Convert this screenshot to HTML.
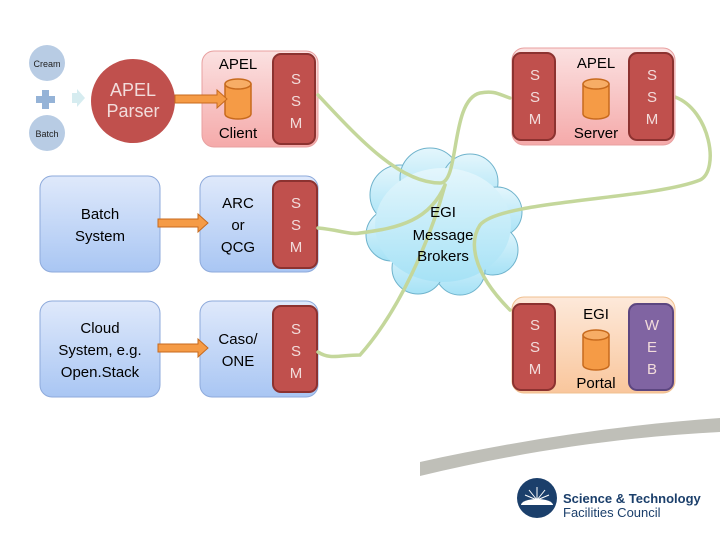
<!DOCTYPE html>
<html><head><meta charset="utf-8"><style>
body{margin:0;width:720px;height:540px;overflow:hidden;background:#fff;font-family:"Liberation Sans",sans-serif}
svg text{font-family:"Liberation Sans",sans-serif}
</style></head><body>
<svg width="720" height="540" viewBox="0 0 720 540" xmlns="http://www.w3.org/2000/svg">
<defs>
<linearGradient id="blue" x1="0" y1="0" x2="0" y2="1"><stop offset="0" stop-color="#dfe9fb"/><stop offset="1" stop-color="#a9c6f3"/></linearGradient>
<linearGradient id="pink" x1="0" y1="0" x2="0" y2="1"><stop offset="0" stop-color="#fbe1e1"/><stop offset="1" stop-color="#f5aaaa"/></linearGradient>
<linearGradient id="peach" x1="0" y1="0" x2="0" y2="1"><stop offset="0" stop-color="#fde9da"/><stop offset="1" stop-color="#f9c69c"/></linearGradient>
<linearGradient id="cloud" x1="0" y1="0" x2="0" y2="1"><stop offset="0" stop-color="#e4f6fc"/><stop offset="1" stop-color="#a6e2f6"/></linearGradient>
<g id="cyl"><path d="M0 6 v30 a13 5 0 0 0 26 0 v-30" fill="#f59b46" stroke="#c76a1d" stroke-width="1.5"/><ellipse cx="13" cy="6" rx="13" ry="5" fill="#f7ad66" stroke="#c76a1d" stroke-width="1.5"/></g>
</defs>
<circle cx="47" cy="63" r="18" fill="#b8cce4"/><text x="47" y="67" font-size="9" text-anchor="middle" fill="#222">Cream</text>
<circle cx="47" cy="133" r="18" fill="#b8cce4"/><text x="47" y="137" font-size="9" text-anchor="middle" fill="#222">Batch</text>
<path d="M42 90h7v6h6v7h-6v6h-7v-6h-6v-7h6z" fill="#95b3d7"/>
<path d="M72 93h5v-4l8 9-8 9v-4h-5z" fill="#d6ecf0"/>
<circle cx="133" cy="101" r="42" fill="#c0504d"/>
<text x="133" y="96" font-size="18" text-anchor="middle" fill="#f2dcdb">APEL</text>
<text x="133" y="117" font-size="18" text-anchor="middle" fill="#f2dcdb">Parser</text>
<rect x="202" y="51" width="116" height="96" rx="12" fill="url(#pink)" stroke="#e8a0a0"/>
<rect x="273" y="54" width="42" height="90" rx="8" fill="#c0504d" stroke="#8c3230" stroke-width="2"/>
<text x="238" y="69" font-size="15" text-anchor="middle">APEL</text>
<text x="238" y="138" font-size="15" text-anchor="middle">Client</text>
<use href="#cyl" x="225" y="78"/>
<path d="M175 95h42v-5l10 9-10 9v-5h-42z" fill="#f59b46" stroke="#c76a1d"/>
<rect x="40" y="176" width="120" height="96" rx="12" fill="url(#blue)" stroke="#8eaadb"/>
<text x="100" y="219" font-size="15" text-anchor="middle">Batch</text><text x="100" y="241" font-size="15" text-anchor="middle">System</text>
<rect x="200" y="176" width="118" height="96" rx="12" fill="url(#blue)" stroke="#8eaadb"/>
<rect x="273" y="181" width="44" height="87" rx="8" fill="#c0504d" stroke="#8c3230" stroke-width="2"/>
<text x="238" y="208" font-size="15" text-anchor="middle">ARC</text><text x="238" y="230" font-size="15" text-anchor="middle">or</text><text x="238" y="252" font-size="15" text-anchor="middle">QCG</text>
<path d="M158 219h40v-5l10 9-10 9v-5h-40z" fill="#f59b46" stroke="#c76a1d"/>
<rect x="40" y="301" width="120" height="96" rx="12" fill="url(#blue)" stroke="#8eaadb"/>
<text x="100" y="333" font-size="15" text-anchor="middle">Cloud</text><text x="100" y="355" font-size="15" text-anchor="middle">System, e.g.</text><text x="100" y="377" font-size="15" text-anchor="middle">Open.Stack</text>
<rect x="200" y="301" width="118" height="96" rx="12" fill="url(#blue)" stroke="#8eaadb"/>
<rect x="273" y="306" width="44" height="86" rx="8" fill="#c0504d" stroke="#8c3230" stroke-width="2"/>
<text x="238" y="344" font-size="15" text-anchor="middle">Caso/</text><text x="238" y="366" font-size="15" text-anchor="middle">ONE</text>
<path d="M158 344h40v-5l10 9-10 9v-5h-40z" fill="#f59b46" stroke="#c76a1d"/>
<g fill="url(#cloud)" stroke="#6fb3cc" stroke-width="1">
<circle cx="400" cy="195" r="30"/><circle cx="430" cy="178" r="30"/><circle cx="470" cy="182" r="28"/><circle cx="497" cy="212" r="25"/><circle cx="493" cy="250" r="25"/><circle cx="460" cy="270" r="25"/><circle cx="418" cy="268" r="26"/><circle cx="392" cy="235" r="26"/>
</g>
<ellipse cx="443" cy="225" rx="68" ry="57" fill="url(#cloud)"/>
<g fill="none" stroke="#c4d79b" stroke-width="3.5" stroke-linecap="round">
<path d="M318 95 C360 140 400 183 440 183 C460 183 450 100 480 93 C495 90 500 95 510 98"/>
<path d="M318 228 C340 230 350 235 360 233 C400 228 430 220 445 185"/>
<path d="M318 352 C330 360 340 355 360 355 C400 310 430 240 445 185"/>
<path d="M675 97 C710 110 720 170 700 180 C650 200 500 200 480 225 C470 240 470 270 510 310"/>
</g>
<text x="443" y="217" font-size="15" text-anchor="middle">EGI</text><text x="443" y="240" font-size="15" text-anchor="middle">Message</text><text x="443" y="261" font-size="15" text-anchor="middle">Brokers</text>
<rect x="512" y="48" width="163" height="97" rx="12" fill="url(#pink)" stroke="#e8a0a0"/>
<rect x="513" y="53" width="42" height="87" rx="8" fill="#c0504d" stroke="#8c3230" stroke-width="2"/>
<rect x="629" y="53" width="44" height="87" rx="8" fill="#c0504d" stroke="#8c3230" stroke-width="2"/>
<text x="596" y="68" font-size="15" text-anchor="middle">APEL</text><text x="596" y="138" font-size="15" text-anchor="middle">Server</text>
<use href="#cyl" x="583" y="78"/>
<rect x="512" y="297" width="163" height="96" rx="12" fill="url(#peach)" stroke="#f0c090"/>
<rect x="513" y="304" width="42" height="86" rx="8" fill="#c0504d" stroke="#8c3230" stroke-width="2"/>
<rect x="629" y="304" width="44" height="86" rx="8" fill="#8064a2" stroke="#5c4680" stroke-width="2"/>
<text x="596" y="319" font-size="15" text-anchor="middle">EGI</text><text x="596" y="388" font-size="15" text-anchor="middle">Portal</text>
<use href="#cyl" x="583" y="329"/>
<g fill="#f2dcdb" font-size="15" text-anchor="middle">
<text x="296" y="84">S</text><text x="296" y="106">S</text><text x="296" y="128">M</text>
<text x="296" y="208">S</text><text x="296" y="230">S</text><text x="296" y="252">M</text>
<text x="296" y="334">S</text><text x="296" y="356">S</text><text x="296" y="378">M</text>
<text x="535" y="80">S</text><text x="535" y="102">S</text><text x="535" y="124">M</text>
<text x="652" y="80">S</text><text x="652" y="102">S</text><text x="652" y="124">M</text>
<text x="535" y="330">S</text><text x="535" y="352">S</text><text x="535" y="374">M</text>
<text x="652" y="330">W</text><text x="652" y="352">E</text><text x="652" y="374">B</text>
</g>
<path d="M420 462 C520 440 620 425 720 418 L720 432 C620 437 520 452 420 476 Z" fill="#bfbfb8"/>
<circle cx="537" cy="498" r="20" fill="#1b3f6b"/>
<path d="M521 505 a16 6 0 0 1 32 0 Z" fill="#fff"/>
<g stroke="#fff" stroke-width="1"><path d="M537 500v-13M537 500l-8-10M537 500l8-10M537 500l-12-5M537 500l12-5"/></g>
<text x="563" y="503" font-size="13" font-weight="bold" fill="#1b3f6b">Science &amp; Technology</text>
<text x="563" y="517" font-size="13" fill="#1b3f6b">Facilities Council</text>
</svg>
</body></html>
